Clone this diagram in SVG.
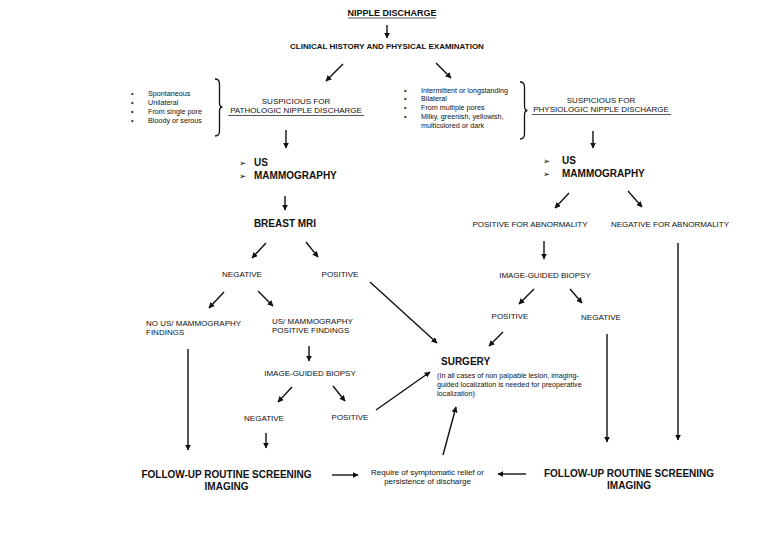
<svg xmlns="http://www.w3.org/2000/svg" width="765" height="541" viewBox="0 0 765 541">
<style>
text{font-family:"Liberation Sans",Arial,sans-serif;fill:#111}
.b{font-weight:bold}
.t8{font-size:8px}
.t7{font-size:7.2px}
.t10{font-size:10px}
.c{text-anchor:middle}
.ar{font-family:"DejaVu Sans",sans-serif;font-size:8.5px}
.ln{stroke:#111;stroke-width:1.4;fill:none}
.ul{stroke:#111;stroke-width:0.7}
.br{stroke:#111;stroke-width:1.3;fill:none}
</style>
<defs>
<marker id="ah" viewBox="0 0 10 10" refX="9" refY="5" markerWidth="6" markerHeight="6" markerUnits="userSpaceOnUse" orient="auto">
<path d="M0,0 L10,5 L0,10 z" fill="#111"/>
</marker>
</defs>
<rect width="765" height="541" fill="#fff"/>

<g id="n-title">
<text class="b c" x="392" y="16" font-size="9">NIPPLE DISCHARGE</text>
<line class="ul" x1="348" y1="18" x2="436" y2="18"/>
</g>
<g id="n-clinical"><text class="b c" x="387" y="49" font-size="8">CLINICAL HISTORY AND PHYSICAL EXAMINATION</text></g>

<g id="n-left-criteria" class="t7">
<text x="131" y="96">•</text><text x="148" y="96">Spontaneous</text>
<text x="131" y="105">•</text><text x="148" y="105">Unilateral</text>
<text x="131" y="114">•</text><text x="148" y="114">From single pore</text>
<text x="131" y="123">•</text><text x="148" y="123">Bloody or serous</text>
<path class="br" d="M215,79 Q219.5,79 219.5,84 L219.5,103 Q219.5,107 222.5,107 Q219.5,107 219.5,111 L219.5,131 Q219.5,136 215,136"/>
</g>
<g id="n-pathologic">
<text class="t8 c" x="296" y="104">SUSPICIOUS FOR</text>
<text class="t8 c" x="296" y="113">PATHOLOGIC NIPPLE DISCHARGE</text>
<line class="ul" x1="228" y1="115.5" x2="364" y2="115.5"/>
</g>

<g id="n-right-criteria" class="t7">
<text x="404" y="93">•</text><text x="421" y="93">Intermittent or longstanding</text>
<text x="404" y="101">•</text><text x="421" y="101">Bilateral</text>
<text x="404" y="110">•</text><text x="421" y="110">From multiple pores</text>
<text x="404" y="119">•</text><text x="421" y="119">Milky, greenish, yellowish,</text>
<text x="421" y="128">multicolored or dark</text>
<path class="br" d="M520,82 Q524.5,82 524.5,87 L524.5,106 Q524.5,110.5 527.5,110.5 Q524.5,110.5 524.5,115 L524.5,134 Q524.5,139 520,139"/>
</g>
<g id="n-physiologic">
<text class="t8 c" x="601" y="103">SUSPICIOUS FOR</text>
<text class="t8 c" x="601" y="112">PHYSIOLOGIC NIPPLE DISCHARGE</text>
<line class="ul" x1="532" y1="114.5" x2="671" y2="114.5"/>
</g>

<g id="n-left-imaging">
<text class="ar" x="239" y="166">➢</text>
<text class="b t10" x="254" y="166">US</text>
<text class="ar" x="239" y="179">➢</text>
<text class="b t10" x="254" y="179">MAMMOGRAPHY</text>
</g>
<g id="n-right-imaging">
<text class="ar" x="543" y="164">➢</text>
<text class="b t10" x="562" y="164">US</text>
<text class="ar" x="543" y="177">➢</text>
<text class="b t10" x="562" y="177">MAMMOGRAPHY</text>
</g>

<g id="n-mri"><text class="b t10 c" x="285" y="227">BREAST MRI</text></g>
<g id="n-mri-neg"><text class="t8 c" x="242" y="277">NEGATIVE</text></g>
<g id="n-mri-pos"><text class="t8 c" x="340" y="277">POSITIVE</text></g>
<g id="n-no-findings">
<text class="t8" x="146" y="326">NO US/ MAMMOGRAPHY</text>
<text class="t8" x="146" y="335">FINDINGS</text>
</g>
<g id="n-pos-findings">
<text class="t8" x="272" y="324">US/ MAMMOGRAPHY</text>
<text class="t8" x="272" y="333">POSITIVE FINDINGS</text>
</g>
<g id="n-left-biopsy"><text class="t8 c" x="310" y="376">IMAGE-GUIDED BIOPSY</text></g>
<g id="n-left-biopsy-neg"><text class="t8 c" x="264" y="421">NEGATIVE</text></g>
<g id="n-left-biopsy-pos"><text class="t8 c" x="350" y="420">POSITIVE</text></g>

<g id="n-pos-abn"><text class="t8 c" x="530" y="227">POSITIVE FOR ABNORMALITY</text></g>
<g id="n-neg-abn"><text class="t8 c" x="670" y="227">NEGATIVE FOR ABNORMALITY</text></g>
<g id="n-right-biopsy"><text class="t8 c" x="545" y="278">IMAGE-GUIDED BIOPSY</text></g>
<g id="n-right-biopsy-pos"><text class="t8 c" x="510" y="319">POSITIVE</text></g>
<g id="n-right-biopsy-neg"><text class="t8 c" x="601" y="320">NEGATIVE</text></g>

<g id="n-surgery">
<text class="b t10" x="441" y="365">SURGERY</text>
<text class="t7" x="437" y="378">(In all cases of non palpable lesion, imaging-</text>
<text class="t7" x="437" y="387">guided localization is needed for preoperative</text>
<text class="t7" x="437" y="396">localization)</text>
</g>

<g id="n-followup-left">
<text class="b t10 c" x="226.5" y="478">FOLLOW-UP ROUTINE SCREENING</text>
<text class="b t10 c" x="226.5" y="490">IMAGING</text>
</g>
<g id="n-require">
<text class="t8 c" x="427.5" y="475">Require of symptomatic relief or</text>
<text class="t8 c" x="427.5" y="484">persistence of discharge</text>
</g>
<g id="n-followup-right">
<text class="b t10 c" x="629" y="477">FOLLOW-UP ROUTINE SCREENING</text>
<text class="b t10 c" x="629" y="489">IMAGING</text>
</g>

<g id="connectors" class="ln" marker-end="url(#ah)">
<path d="M387,25 L387,38"/>
<path d="M343,64 L326,81"/>
<path d="M436,63 L451,78"/>
<path d="M286,130 L286,148"/>
<path d="M593,131 L593,148"/>
<path d="M285,196 L285,210"/>
<path d="M266,243 L252,258"/>
<path d="M306,242 L318,257"/>
<path d="M224,292 L209,308"/>
<path d="M258,291 L273,306"/>
<path d="M370,282 L437,343"/>
<path d="M188,349 L188,450"/>
<path d="M309,346 L309,361"/>
<path d="M292,387 L278,402"/>
<path d="M333,386 L345,401"/>
<path d="M266,433 L266,448"/>
<path d="M376,410 L430,372"/>
<path d="M569,193 L555,208"/>
<path d="M628,191 L642,207"/>
<path d="M544,241 L544,259"/>
<path d="M534,289 L519,304"/>
<path d="M570,289 L582,303"/>
<path d="M503,332 L489,346"/>
<path d="M607,334 L607,442"/>
<path d="M678,243 L678,440"/>
<path d="M332,475 L358,475"/>
<path d="M443,455 L456,407"/>
<path d="M526,474 L498,474"/>
</g>
</svg>
